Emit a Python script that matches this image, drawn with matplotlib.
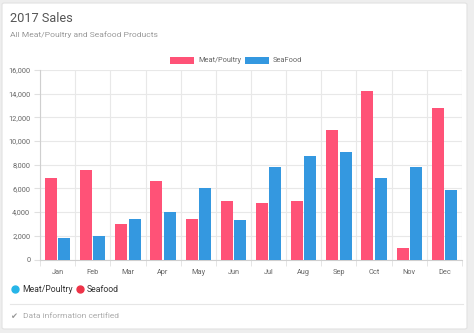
import matplotlib.pyplot as plt
import numpy as np
from matplotlib.patches import FancyBboxPatch, Rectangle
from matplotlib.lines import Line2D

plt.rcParams['font.family'] = ['Roboto', 'DejaVu Sans']

months = ['Jan', 'Feb', 'Mar', 'Apr', 'May', 'Jun',
          'Jul', 'Aug', 'Sep', 'Oct', 'Nov', 'Dec']
meat_poultry = [6850, 7550, 3000, 6600, 3400, 4900, 4800, 4900, 10950, 14200, 1000, 12800]
seafood = [1800, 2000, 3450, 4000, 6000, 3300, 7850, 8700, 9050, 6900, 7850, 5900]
y_ticks = [0, 2000, 4000, 6000, 8000, 10000, 12000, 14000, 16000]

MEAT = '#ff5277'
SEA = '#3498e0'
W, H = 474, 333

fig = plt.figure(figsize=(W / 100, H / 100), dpi=100)
fig.patch.set_facecolor('#eeeeee')

# white card behind everything
card = FancyBboxPatch((2 / W, 4 / H), 465 / W, 326 / H,
                      boxstyle='round,pad=0,rounding_size=0.005',
                      transform=fig.transFigure, facecolor='white',
                      edgecolor='#e2e2e2', linewidth=0.8, zorder=-5)
fig.patches.append(card)

ax = fig.add_axes([40 / W, (H - 259.5) / H, 422 / W, 189.5 / H])
ax.set_zorder(2)
ax.patch.set_alpha(0)
x = np.arange(len(months))
bw = 0.34
ax.bar(x - 0.19, meat_poultry, bw, color=MEAT, zorder=3)
ax.bar(x + 0.19, seafood, bw, color=SEA, zorder=3)

ax.set_xlim(-0.5, len(months) - 0.5)
ax.set_ylim(0, 16000)
ax.set_yticks(y_ticks)
ax.set_yticklabels([f'{v:,}' for v in y_ticks])
ax.set_xticks(x)
ax.set_xticklabels(months)
ax.set_xticks(np.arange(-0.5, len(months)), minor=True)
ax.grid(axis='y', color='#e8e8e8', linewidth=0.8, zorder=0)
ax.grid(axis='x', which='minor', color='#e8e8e8', linewidth=0.8, zorder=0)
ax.tick_params(axis='x', which='major', length=0, labelsize=5.3, colors='#666666', pad=7)
ax.tick_params(axis='x', which='minor', length=4, color='#e0e0e0')
ax.tick_params(axis='y', length=4, color='#e0e0e0', labelsize=5.3, labelcolor='#666666', pad=3)
for side in ['top', 'right']:
    ax.spines[side].set_visible(False)
for side in ['left', 'bottom']:
    ax.spines[side].set_color('#cfcfcf')
    ax.spines[side].set_linewidth(0.8)

# header
fig.text(10 / W, 1 - 18 / H, '2017 Sales', fontsize=9.2, color='#555555', va='center')
fig.text(10 / W, 1 - 35 / H, 'All Meat/Poultry and Seafood Products',
         fontsize=6.1, color='#999999', va='center')

# top legend
for bx, label, col in [(170, 'Meat/Poultry', MEAT), (245, 'SeaFood', SEA)]:
    fig.patches.append(Rectangle((bx / W, 1 - 64 / H), 24 / W, 7 / H,
                                 transform=fig.transFigure, facecolor=col,
                                 edgecolor='none'))
    fig.text((bx + 28) / W, 1 - 60.5 / H, label, fontsize=5.3,
             color='#666666', va='center')

# bottom legend with dots
for cx, label, col in [(15, 'Meat/Poultry', '#26b5e8'), (80, 'Seafood', '#ee3348')]:
    fig.lines.append(Line2D([cx / W], [1 - 289 / H], marker='o', markersize=5,
                            color=col, transform=fig.transFigure))
    fig.text((cx + 7) / W, 1 - 289 / H, label, fontsize=6.2,
             color='#333333', va='center')

fig.lines.append(Line2D([10 / W, 463 / W], [1 - 304 / H, 1 - 304 / H],
                        color='#e6e6e6', linewidth=0.8, transform=fig.transFigure))
fig.text(10 / W, 1 - 316.5 / H, '\u2714', fontsize=6, color='#999999',
         va='center', family=['DejaVu Sans'])
fig.text(23 / W, 1 - 316.5 / H, 'Data information certified', fontsize=6.05,
         color='#aaaaaa', va='center')

fig.savefig('out.png', dpi=100)
